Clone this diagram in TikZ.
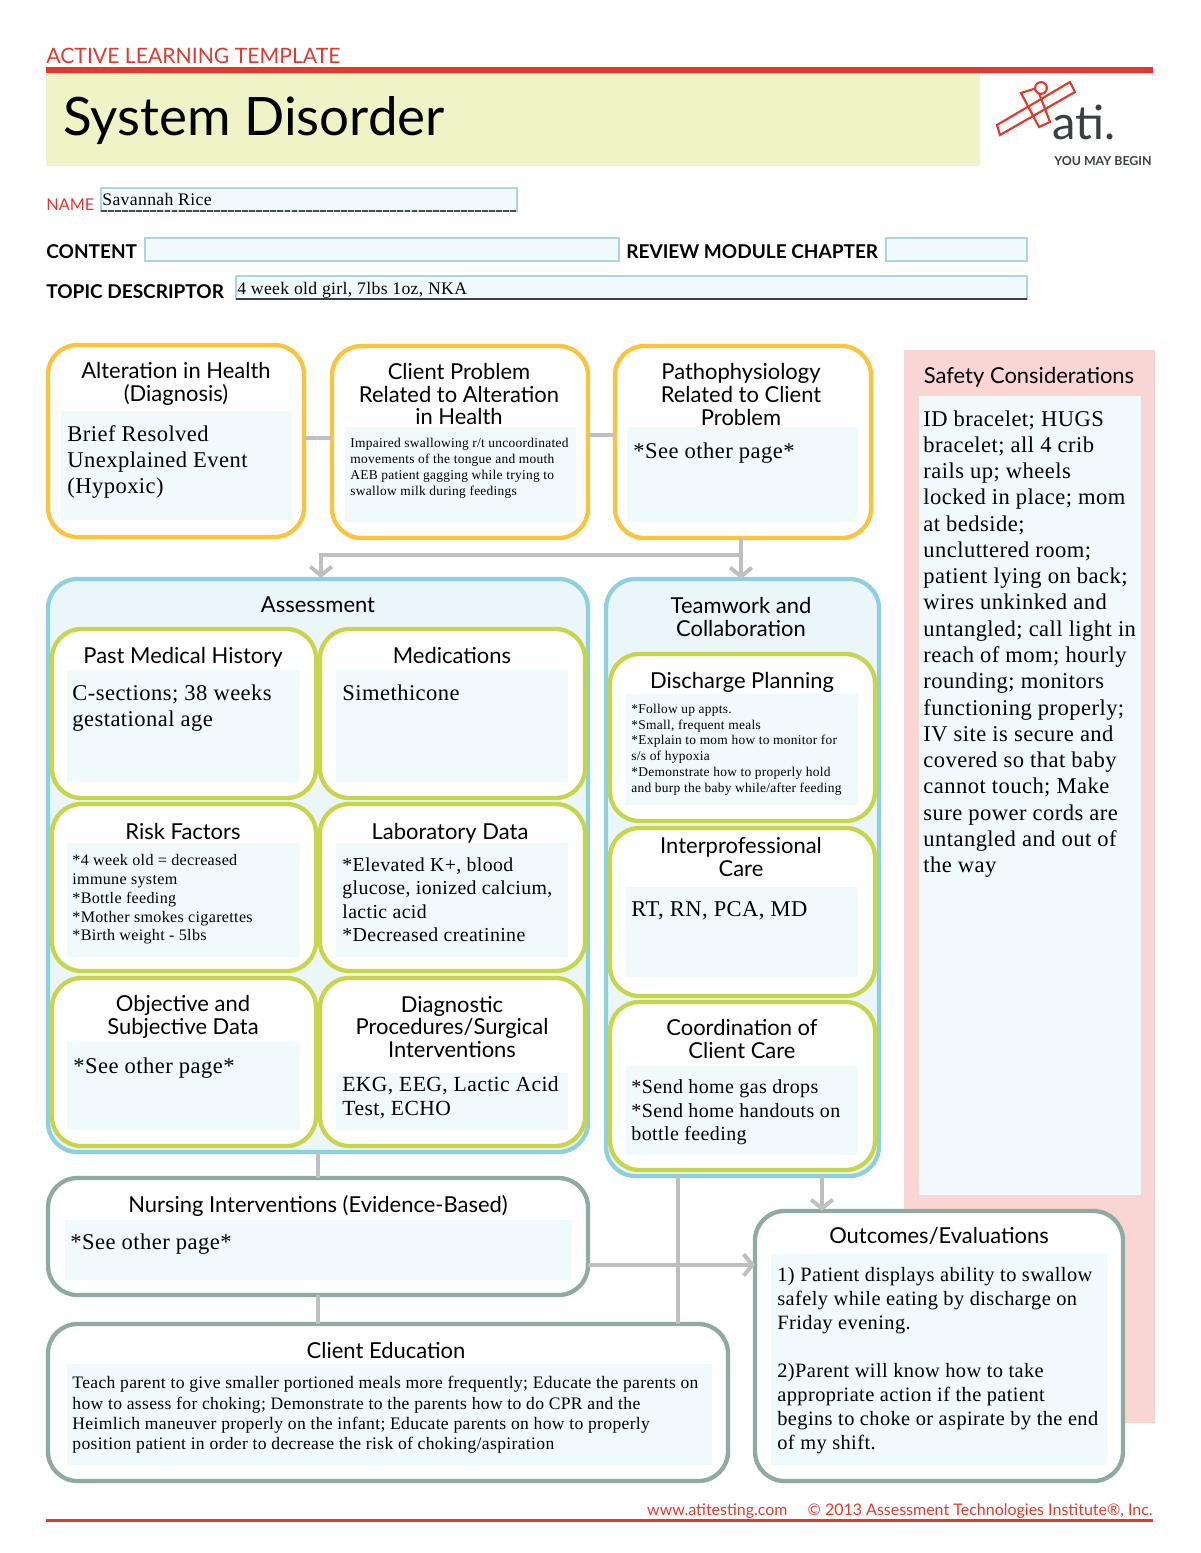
\documentclass[tikz,border=0pt]{standalone}
\usepackage{fontspec}
\setmainfont{Liberation Serif}
\newfontfamily\headfont{Lato}
\newfontfamily\formfont[LetterSpace=2]{Liberation Serif}
\usetikzlibrary{arrows.meta,positioning}
\definecolor{atired}{HTML}{E03A2F}
\definecolor{bandyellow}{HTML}{EFF3C6}
\definecolor{fieldblue}{HTML}{F0F9FB}
\definecolor{fieldline}{HTML}{A9D6E2}
\definecolor{boxyellow}{HTML}{FDC33B}
\definecolor{boxblue}{HTML}{8ED0DF}
\definecolor{fillblue}{HTML}{EAF6F9}
\definecolor{boxgreen}{HTML}{C7D548}
\definecolor{boxgrey}{HTML}{8EAAA3}
\definecolor{safetypink}{HTML}{F9D5D3}
\definecolor{linkgrey}{HTML}{BFBFBF}
\definecolor{logodark}{HTML}{3A3F42}
\begin{document}
\begin{tikzpicture}[x=0.51pt,y=-0.51pt]
	\tikzset{boxsize/.style 2 args = {
			minimum width=#1*0.51pt,
			minimum height=#2*0.51pt
	}}
	\tikzset{BaseBox/.style = {
			shape=rectangle,
			anchor=north west,
			inner sep=0pt,
			outer sep=0pt
	}}
	\tikzset{RoundBox/.style = {
			BaseBox,
			rounded corners=15pt,
			line width=2.2pt,
			fill=white
	}}
	\tikzset{YellowBox/.style = {RoundBox, draw=boxyellow}}
	\tikzset{BlueBox/.style = {RoundBox, draw=boxblue, fill=fillblue}}
	\tikzset{GreenBox/.style = {RoundBox, draw=boxgreen}}
	\tikzset{GreyBox/.style = {RoundBox, draw=boxgrey}}
	\tikzset{PanelStyle/.style = {BaseBox, fill=fieldblue}}
	\tikzset{FieldStyle/.style = {BaseBox, fill=fieldblue, draw=fieldline, line width=0.7pt}}
	\tikzset{HeadStyle/.style = {
			align=center,
			inner sep=0pt,
			font=\headfont\fontsize{11.2}{11.7}\selectfont
	}}
	\tikzset{LabelStyle/.style = {
			anchor=base west,
			inner sep=0pt,
			font=\headfont\bfseries\fontsize{9.7}{12}\selectfont
	}}
	\tikzset{BodyBig/.style = {
			anchor=north west,
			align=left,
			inner sep=0pt,
			font=\formfont\fontsize{11.5}{13.4}\selectfont
	}}
	\tikzset{BodyMid/.style = {BodyBig, font=\formfont\fontsize{10.1}{12}\selectfont}}
	\tikzset{BodySmall/.style = {BodyBig, font=\formfont\fontsize{8.2}{9.6}\selectfont}}
	\tikzset{BodyTiny/.style = {BodyBig, font=\formfont\fontsize{6.85}{8.1}\selectfont}}
	\tikzset{LinkLine/.style = {draw=linkgrey, line width=2pt}}
	\tikzset{ArrowLine/.style = {LinkLine, -{Straight Barb[length=4.5pt,width=11pt]}}}

	% header
	\node[BaseBox, fill=atired, boxsize={1107}{6}] (toprule) at (46,67) {};
	\node[BaseBox, fill=bandyellow, boxsize={934}{93}] (band) at (46,73) {};
	\node[LabelStyle, font=\headfont\fontsize{10.8}{12}\selectfont, text=atired] (template) at (46,63.5) {ACTIVE LEARNING TEMPLATE};
	\node[anchor=base west, inner sep=0pt, font=\headfont\fontsize{27}{30}\selectfont] (title) at (63,135.5) {System Disorder};

	% logo
	\draw[atired, line width=1.1pt, fill=white] (997,125) -- (1000,135) -- (1075,92) -- (1070,82) -- cycle;
	\draw[atired, line width=1.1pt] (1021,93) -- (1037,88) -- (1050,122) -- (1039,127) -- cycle;
	\draw[atired, line width=1.1pt, fill=white] (1041,88) circle (3pt);
	\node[anchor=base west, inner sep=0pt, text=logodark, font=\headfont\fontsize{24}{24}\selectfont] (ati) at (1052,140) {ati.};
	\node[anchor=base west, inner sep=0pt, text=logodark, font=\headfont\bfseries\fontsize{6.3}{7}\selectfont] (begin) at (1054,166) {YOU MAY BEGIN};

	% form fields
	\node[LabelStyle, font=\headfont\fontsize{8.3}{10}\selectfont, text=atired] (namelabel) at (46,211) {NAME};
	\node[FieldStyle, boxsize={416}{23}] (namefield) at (101,188) {};
	\draw[dash pattern=on 3pt off 0.6pt, black!70, line width=0.6pt] (namefield.south west) -- (namefield.south east);
	\node[BodySmall, anchor=base west, font=\formfont\fontsize{9}{10}\selectfont] (nametext) at (102,206) {Savannah Rice};
	\node[LabelStyle] (contentlabel) at (46,258) {CONTENT};
	\node[FieldStyle, boxsize={474}{23}] (contentfield) at (145,238) {};
	\node[LabelStyle] (chapterlabel) at (626,258) {REVIEW MODULE CHAPTER};
	\node[FieldStyle, boxsize={141}{23}] (chapterfield) at (886,238) {};
	\node[LabelStyle] (topiclabel) at (46,298) {TOPIC DESCRIPTOR};
	\node[FieldStyle, boxsize={791}{23}] (topicfield) at (236,276) {};
	\draw[logodark, line width=0.8pt] (topicfield.south west) -- (topicfield.south east);
	\node[BodySmall, anchor=base west, font=\formfont\fontsize{9}{10}\selectfont] (topictext) at (237,294) {4 week old girl, 7lbs 1oz, NKA};

	% safety column
	\node[BaseBox, fill=safetypink, boxsize={251}{1073}] (safety) at (904,350) {};
	\node[PanelStyle, boxsize={222}{799}] (safetypanel) at (919,396) {};
	\node[HeadStyle] (safetyhead) at (1029,377) {Safety Considerations};
	\node[BodyBig] (safetytext) at (923,410) {ID bracelet; HUGS\\bracelet; all 4 crib\\rails up; wheels\\locked in place; mom\\at bedside;\\uncluttered room;\\patient lying on back;\\wires unkinked and\\untangled; call light in\\reach of mom; hourly\\rounding; monitors\\functioning properly;\\IV site is secure and\\covered so that baby\\cannot touch; Make\\sure power cords are\\untangled and out of\\the way};

	% top row
	\node[YellowBox, boxsize={256}{192}] (health) at (48,345) {};
	\node[PanelStyle, boxsize={231}{109}] (healthpanel) at (61,411) {};
	\node[HeadStyle] (healthhead) at (176,384) {Alteration in Health\\(Diagnosis)};
	\node[BodyBig] (healthtext) at (67,425) {Brief Resolved\\Unexplained Event\\(Hypoxic)};

	\node[YellowBox, boxsize={256}{192}] (problem) at (332,346) {};
	\node[PanelStyle, boxsize={231}{95}] (problempanel) at (345,427) {};
	\node[HeadStyle] (problemhead) at (459,394) {Client Problem\\Related to Alteration\\in Health};
	\node[BodyTiny] (problemtext) at (350,438) {Impaired swallowing r/t uncoordinated\\movements of the tongue and mouth\\AEB patient gagging while trying to\\swallow milk during feedings};

	\node[YellowBox, boxsize={256}{192}] (patho) at (615,346) {};
	\node[PanelStyle, boxsize={231}{95}] (pathopanel) at (627,427) {};
	\node[HeadStyle] (pathohead) at (741,394.5) {Pathophysiology\\Related to Client\\Problem};
	\node[BodyBig] (pathotext) at (633,442) {*See other page*};

	% assessment
	\node[BlueBox, boxsize={540}{573}] (assessment) at (48,579) {};
	\node[HeadStyle] (assessmenthead) at (318,605) {Assessment};

	\node[GreenBox, boxsize={264}{169}] (history) at (52,629) {};
	\node[PanelStyle, boxsize={233}{112}] (historypanel) at (67,670) {};
	\node[HeadStyle] (historyhead) at (183,657) {Past Medical History};
	\node[BodyBig] (historytext) at (72,684) {C-sections; 38 weeks\\gestational age};

	\node[GreenBox, boxsize={265}{169}] (meds) at (320,629) {};
	\node[PanelStyle, boxsize={232}{112}] (medspanel) at (336,670) {};
	\node[HeadStyle] (medshead) at (452,655) {Medications};
	\node[BodyBig] (medstext) at (342,684) {Simethicone};

	\node[GreenBox, boxsize={264}{167}] (risk) at (52,804) {};
	\node[PanelStyle, boxsize={233}{114}] (riskpanel) at (67,843) {};
	\node[HeadStyle] (riskhead) at (183,831) {Risk Factors};
	\node[BodySmall] (risktext) at (72,854) {*4 week old = decreased\\immune system\\*Bottle feeding\\*Mother smokes cigarettes\\*Birth weight - 5lbs};

	\node[GreenBox, boxsize={265}{167}] (labs) at (320,804) {};
	\node[PanelStyle, boxsize={232}{114}] (labspanel) at (336,843) {};
	\node[HeadStyle] (labshead) at (450,833) {Laboratory Data};
	\node[BodyMid] (labstext) at (342,857) {*Elevated K+, blood\\glucose, ionized calcium,\\lactic acid\\*Decreased creatinine};

	\node[GreenBox, boxsize={264}{168}] (objective) at (52,978) {};
	\node[PanelStyle, boxsize={233}{88}] (objectivepanel) at (67,1042) {};
	\node[HeadStyle] (objectivehead) at (183,1017) {Objective and\\Subjective Data};
	\node[BodyBig] (objectivetext) at (73,1057) {*See other page*};

	\node[GreenBox, boxsize={265}{168}] (diagnostic) at (320,978) {};
	\node[PanelStyle, boxsize={232}{57}] (diagnosticpanel) at (336,1073) {};
	\node[HeadStyle] (diagnostichead) at (452,1027) {Diagnostic\\Procedures/Surgical\\Interventions};
	\node[BodyMid, font=\formfont\fontsize{11}{12.2}\selectfont] (diagnostictext) at (342,1076) {EKG, EEG, Lactic Acid\\Test, ECHO};

	% teamwork
	\node[BlueBox, boxsize={273}{597}] (teamwork) at (606,579) {};
	\node[HeadStyle] (teamworkhead) at (741,617) {Teamwork and\\Collaboration};

	\node[GreenBox, boxsize={265}{167}] (discharge) at (610,654) {};
	\node[PanelStyle, boxsize={232}{111}] (dischargepanel) at (626,694) {};
	\node[HeadStyle] (dischargehead) at (742,682) {Discharge Planning};
	\node[BodyTiny] (dischargetext) at (631,703.5) {*Follow up appts.\\*Small, frequent meals\\*Explain to mom how to monitor for\\s/s of hypoxia\\*Demonstrate how to properly hold\\and burp the baby while/after feeding};

	\node[GreenBox, boxsize={265}{168}] (interpro) at (610,828) {};
	\node[PanelStyle, boxsize={232}{90}] (interpropanel) at (626,887) {};
	\node[HeadStyle] (interprohead) at (741,857) {Interprofessional\\Care};
	\node[BodyBig] (interprotext) at (631,901) {RT, RN, PCA, MD};

	\node[GreenBox, boxsize={265}{168}] (coordination) at (610,1002) {};
	\node[PanelStyle, boxsize={232}{89}] (coordinationpanel) at (626,1066) {};
	\node[HeadStyle] (coordinationhead) at (742,1039) {Coordination of\\Client Care};
	\node[BodySmall, font=\formfont\fontsize{10.2}{12.1}\selectfont] (coordinationtext) at (631,1079) {*Send home gas drops\\*Send home handouts on\\bottle feeding};

	% lower boxes
	\node[GreyBox, boxsize={540}{117}] (nursing) at (48,1178) {};
	\node[PanelStyle, boxsize={507}{60}] (nursingpanel) at (65,1220) {};
	\node[HeadStyle] (nursinghead) at (318,1206) {Nursing Interventions (Evidence-Based)};
	\node[BodyBig] (nursingtext) at (70,1233) {*See other page*};

	\node[GreyBox, boxsize={680}{157}] (education) at (48,1324) {};
	\node[PanelStyle, boxsize={645}{101}] (educationpanel) at (67,1364) {};
	\node[HeadStyle] (educationhead) at (386,1350) {Client Education};
	\node[BodySmall, font=\formfont\fontsize{8.95}{10.4}\selectfont] (educationtext) at (72,1376) {Teach parent to give smaller portioned meals more frequently; Educate the parents on\\how to assess for choking; Demonstrate to the parents how to do CPR and the\\Heimlich maneuver properly on the infant; Educate parents on how to properly\\position patient in order to decrease the risk of choking/aspiration};

	\node[GreyBox, boxsize={368}{270}] (outcomes) at (755,1211) {};
	\node[PanelStyle, boxsize={336}{211}] (outcomespanel) at (771,1254) {};
	\node[HeadStyle] (outcomeshead) at (939,1236) {Outcomes/Evaluations};
	\node[BodyMid, font=\formfont\fontsize{10.4}{12.2}\selectfont] (outcomestext) at (777,1267) {1) Patient displays ability to swallow\\safely while eating by discharge on\\Friday evening.\\[12.2pt]2)Parent will know how to take\\appropriate action if the patient\\begins to choke or aspirate by the end\\of my shift.};

	% footer
	\node[BaseBox, fill=atired, boxsize={1107}{2.5}] (bottomrule) at (46,1519) {};
	\node[anchor=base east, inner sep=0pt, text=atired, font=\headfont\fontsize{8.15}{9}\selectfont] (footer) at (1153,1515) {www.atitesting.com\quad\ \textcopyright{} 2013 Assessment Technologies Institute\textregistered, Inc.};

	% connectors
	\coordinate (split) at (741,555);
	\coordinate (assessin) at (321,578);
	\path[LinkLine] ([yshift=1.5pt]health.east) edge ([yshift=1.5pt]health.east -| problem.west);
	\path[LinkLine] ([yshift=3.5pt]problem.east) edge ([yshift=3.5pt]patho.west);
	\draw[ArrowLine] ([xshift=-1pt]patho.south) -- ([xshift=-1pt]patho.south |- teamwork.north);
	\draw[ArrowLine] (split) -| (assessin);
	\draw[LinkLine] (assessment.south) -- (nursing.north);
	\draw[LinkLine] (nursing.south) -- (education.north -| nursing.south);
	\draw[LinkLine] ([xshift=-33pt]teamwork.south) -- ([xshift=-33pt]teamwork.south |- education.north);
	\draw[ArrowLine] ([xshift=40.5pt]teamwork.south) -- ([xshift=40.5pt]teamwork.south |- outcomes.north);
	\draw[ArrowLine] ([yshift=-14.5pt]nursing.east) -- ([yshift=-14.5pt]nursing.east -| outcomes.west);

	\useasboundingbox (0,0) rectangle (1200,1553);
\end{tikzpicture}
\end{document}
